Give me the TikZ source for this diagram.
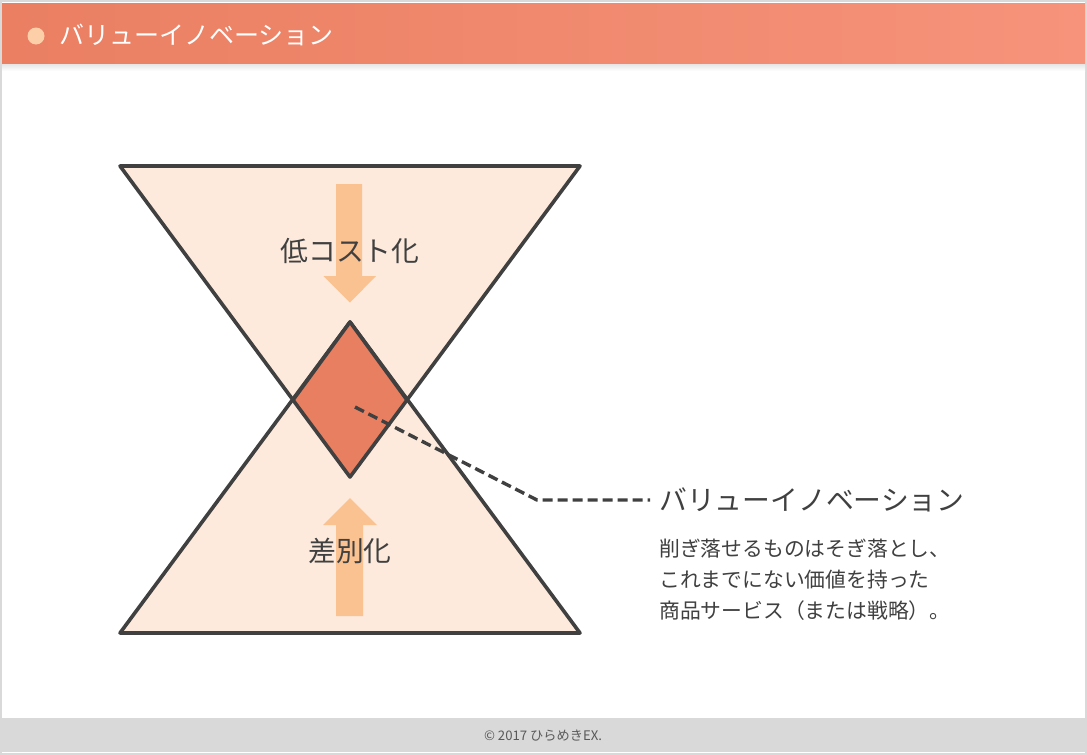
\documentclass[tikz,border=0pt]{standalone}
\usepackage{fontspec}
\newfontfamily\jp{Noto Sans CJK JP}
\definecolor{hdrL}{HTML}{EA7F62}
\definecolor{hdrR}{HTML}{F6937A}
\definecolor{dot}{HTML}{FCCFA8}
\definecolor{ink}{HTML}{404040}
\definecolor{peach}{HTML}{FDEADC}
\definecolor{core}{HTML}{E77F60}
\definecolor{arrowc}{HTML}{FAC191}
\definecolor{footg}{HTML}{D9D9D9}
\definecolor{foott}{HTML}{595959}
\tikzset{
  shapeline/.style={draw=ink, line width=3.6pt, line join=round},
  bigarrow/.style={fill=arrowc, draw=none},
  label28/.style={font=\jp\fontsize{27.8}{30}\selectfont, text=ink, inner sep=0pt},
  desc/.style={font=\jp\fontsize{20.8}{24}\selectfont, text=ink, inner sep=0pt, anchor=west},
  leader/.style={draw=ink, line width=3.4pt, dash pattern=on 10pt off 5pt},
}
\begin{document}
\begin{tikzpicture}[x=1pt,y=-1pt]
\useasboundingbox (0,0) rectangle (1087,755);
\fill[white] (0,0) rectangle (1087,755);
\draw[footg, line width=2pt] (1,1) rectangle (1086,754);
% header
\shade[left color=hdrL, right color=hdrR] (2,3) rectangle (1085,64);
\shade[top color=black!10, bottom color=white] (2,64) rectangle (1085,71);
\fill[dot] (36,36) circle (8.5);
\node[anchor=west, font=\jp\fontsize{25}{28}\selectfont, text=white, inner sep=0pt] (title) at (59,35) {バリューイノベーション};
% footer
\fill[footg] (2,718) rectangle (1085,752);
\node[font=\jp\fontsize{13.2}{15}\selectfont, text=foott, inner sep=0pt] (foot) at (543,736) {© 2017 ひらめきEX.};
% triangles
\coordinate (T1) at (120,166);
\coordinate (T2) at (580,166);
\coordinate (T3) at (350,477);
\coordinate (B1) at (120,633);
\coordinate (B2) at (580,633);
\coordinate (B3) at (350,322);
\path[shapeline, fill=peach] (T1) -- (T2) -- (T3) -- cycle;
\path[shapeline, fill=peach] (B1) -- (B2) -- (B3) -- cycle;
% arrows
\fill[bigarrow] (336,184) -- (362,184) -- (362,276) -- (376,276) -- (350,302.5) -- (323.5,276) -- (336,276) -- cycle;
\fill[bigarrow] (336,616) -- (363,616) -- (363,525) -- (377,525) -- (350,498) -- (323,525) -- (336,525) -- cycle;
% diamond
\coordinate (DT) at (350,322);
\coordinate (DR) at (407,400);
\coordinate (DB) at (350,477);
\coordinate (DL) at (293,400);
\path[shapeline, fill=core] (DT) -- (DR) -- (DB) -- (DL) -- cycle;
% labels
\node[label28] (low) at (350,251) {低コスト化};
\node[label28] (diff) at (350,551) {差別化};
\node[label28, anchor=west] (vi) at (659,500) {バリューイノベーション};
\node[desc] (d1) at (659,549) {削ぎ落せるものはそぎ落とし、};
\node[desc] (d2) at (659,580) {これまでにない価値を持った};
\node[desc] (d3) at (659,611) {商品サービス（または戦略）。};
% leader
\coordinate (ls) at (355,407);
\coordinate (lb) at (537,500);
\coordinate (le) at (650,500);
\draw[leader] (ls) -- (lb) -- (le);
\end{tikzpicture}
\end{document}
